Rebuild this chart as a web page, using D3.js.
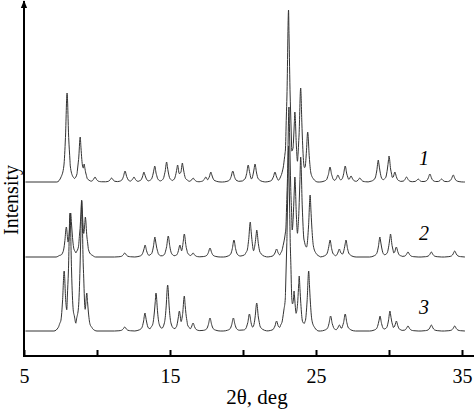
<!DOCTYPE html>
<html>
<head>
<meta charset="utf-8">
<script src="https://cdn.jsdelivr.net/npm/d3@7/dist/d3.min.js"></script>
<style>
  html, body { margin: 0; padding: 0; background: #fff; }
  svg { display: block; }
  text { font-family: "Liberation Serif", "Times New Roman", Times, serif; fill: #000; }
</style>
</head>
<body>
<div id="chart"></div>
<script>
// 画布尺寸
const WIDTH = 474;
const HEIGHT = 412;

// x 轴刻度 (2θ, deg)
const xTicks = [5, 10, 15, 20, 25, 30, 35];
const xTickLabels = ['5', '', '15', '', '25', '', '35'];

// 曲线编号与基线偏移 (强度单位)
const curveNames = ['1', '2', '3'];
const curveOffsets = [174, 99, 25];

// 峰位 [2θ, 峰高]
const peaks1 = [
  [7.95, 89], [8.85, 45], [9.12, 18], [9.86, 5], [11.0, 4], [11.92, 11], [12.53, 5],
  [13.22, 10], [13.95, 16], [14.77, 20], [15.52, 17], [15.85, 19], [16.58, 4],
  [17.45, 5], [17.8, 10], [19.3, 11], [20.36, 17], [20.82, 18], [22.19, 10],
  [22.75, 14], [23.12, 172], [23.55, 70], [23.95, 94], [24.43, 50], [25.96, 15],
  [26.5, 7], [27.0, 16], [27.4, 6], [28.0, 4], [29.27, 22], [30.0, 26], [30.4, 10],
  [31.2, 5], [32.0, 3], [32.8, 8], [33.6, 3], [34.4, 7]
];
const peaks2 = [
  [7.9, 30], [8.2, 44], [8.95, 57], [9.2, 40], [11.9, 4], [13.29, 12], [13.97, 20],
  [14.88, 21], [15.68, 12], [15.98, 23], [16.58, 4], [17.74, 9], [19.38, 17],
  [20.5, 35], [20.94, 27], [22.3, 8], [22.8, 15], [23.15, 150], [23.55, 80],
  [23.95, 100], [24.6, 62], [25.96, 17], [26.6, 8], [27.05, 17], [29.38, 20],
  [30.1, 23], [30.5, 10], [31.3, 5], [32.9, 5], [34.5, 6]
];
const peaks3 = [
  [7.75, 60], [8.15, 118], [8.95, 130], [9.3, 38], [11.9, 4], [13.29, 18],
  [14.04, 38], [14.84, 46], [15.64, 20], [15.98, 35], [16.58, 8], [17.74, 13],
  [19.34, 13], [20.44, 17], [20.94, 28], [22.3, 10], [22.8, 20], [23.12, 185],
  [23.5, 40], [23.85, 55], [24.5, 60], [26.0, 15], [26.6, 6], [27.0, 17],
  [29.38, 15], [30.07, 20], [30.5, 10], [31.3, 5], [32.9, 6], [34.5, 5]
];
const allPeaks = [peaks1, peaks2, peaks3];

// 峰形模板 (相对 2θ 偏移, 相对高度)
const profileOffsets = [-0.7, -0.4, -0.22, -0.11, 0, 0.11, 0.22, 0.4, 0.7];
const profileValues  = [0, 0.06, 0.18, 0.5, 1, 0.5, 0.18, 0.06, 0];
const profile = d3.scaleLinear().domain(profileOffsets).range(profileValues).clamp(true);

// 扫描范围
const scanStart = 5.1;
const scanEnd = 35.2;

// 比例尺
const x = d3.scaleLinear().domain([5, 35]).range([24, 462]);
const y = d3.scaleLinear().domain([0, 350]).range([356, 6]);

const svg = d3.select('#chart')
  .append('svg')
  .attr('width', WIDTH)
  .attr('height', HEIGHT)
  .attr('viewBox', `0 0 ${WIDTH} ${HEIGHT}`);

// 箭头
svg.append('defs')
  .append('marker')
  .attr('id', 'arrow')
  .attr('viewBox', '0 -5 10 10')
  .attr('refX', 9)
  .attr('refY', 0)
  .attr('markerWidth', 4)
  .attr('markerHeight', 5)
  .attr('markerUnits', 'strokeWidth')
  .attr('orient', 'auto')
  .append('path')
  .attr('d', 'M0,-4L10,0L0,4Z')
  .attr('fill', '#000');

// 根据峰位生成折线点
function tracePoints(peaks) {
  let xs = [scanStart, scanEnd];
  peaks.forEach(([p]) => profileOffsets.forEach(o => xs.push(p + o)));
  xs = Array.from(new Set(xs.filter(v => v >= scanStart && v <= scanEnd)))
    .sort((a, b) => a - b);
  return xs.map(v => [v, d3.max(peaks, ([p, h]) => h * profile(v - p))]);
}

const line = d3.line().curve(d3.curveMonotoneX);

// 绘制三条曲线
allPeaks.forEach((peaks, i) => {
  const off = curveOffsets[i];
  const pts = tracePoints(peaks).map(([a, b]) => [x(a), y(off + b)]);
  svg.append('path')
    .attr('d', line(pts))
    .attr('fill', 'none')
    .attr('stroke', '#333')
    .attr('stroke-width', 1)
    .attr('stroke-linejoin', 'round');

  svg.append('text')
    .attr('x', 424)
    .attr('y', y(off + 17))
    .attr('text-anchor', 'middle')
    .attr('font-size', '20px')
    .attr('font-style', 'italic')
    .text(curveNames[i]);
});

// x 轴
const xAxis = d3.axisBottom(x)
  .tickValues(xTicks)
  .tickSizeInner(-6)
  .tickSizeOuter(0)
  .tickPadding(13)
  .tickFormat((d, i) => xTickLabels[i]);

const gx = svg.append('g')
  .attr('transform', `translate(0, ${y(0)})`)
  .call(xAxis);
gx.select('.domain').remove();
gx.selectAll('.tick line').attr('stroke', '#000').attr('stroke-width', 2);
gx.selectAll('.tick text')
  .attr('font-family', '"Liberation Serif", serif')
  .attr('font-size', '20px')
  .attr('fill', '#000');

// 坐标轴线
svg.append('line')
  .attr('x1', x(5) - 1).attr('y1', y(0))
  .attr('x2', WIDTH).attr('y2', y(0))
  .attr('stroke', '#000').attr('stroke-width', 2);

svg.append('line')
  .attr('x1', x(5)).attr('y1', y(0) + 1)
  .attr('x2', x(5)).attr('y2', 1)
  .attr('stroke', '#000').attr('stroke-width', 2)
  .attr('marker-end', 'url(#arrow)');

// 轴标题
svg.append('text')
  .attr('x', 257)
  .attr('y', 404)
  .attr('text-anchor', 'middle')
  .attr('font-size', '21px')
  .text('2θ, deg');

svg.append('text')
  .attr('transform', 'translate(18, 200) rotate(-90)')
  .attr('text-anchor', 'middle')
  .attr('font-size', '20px')
  .text('Intensity');
</script>
</body>
</html>
